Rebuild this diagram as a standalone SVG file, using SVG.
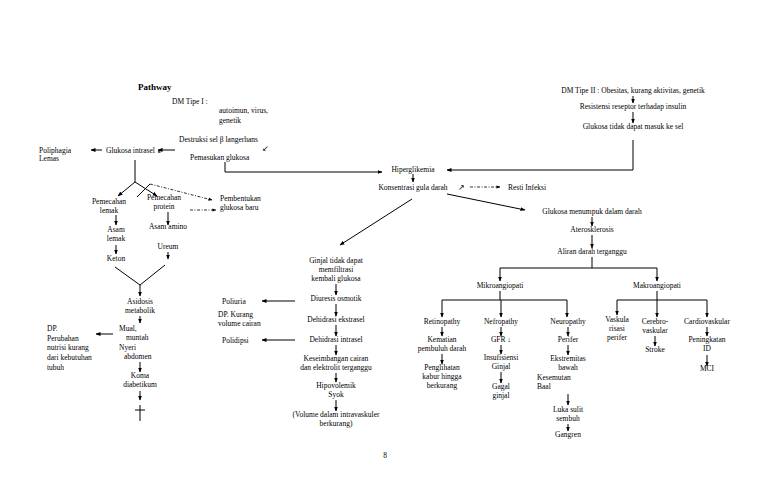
<svg xmlns="http://www.w3.org/2000/svg" width="768" height="503" viewBox="0 0 768 503">
<defs>
<marker id="ah" viewBox="0 0 10 10" refX="9" refY="5" markerWidth="5" markerHeight="5" orient="auto"><path d="M0,1 L10,5 L0,9 z" fill="#000"/></marker>
<style>
text{font-family:"Liberation Serif","Times New Roman",serif;font-size:7.5px;fill:#000}
.c{text-anchor:middle}
.b{font-weight:bold;font-size:9px}
.l{stroke:#000;stroke-width:1;fill:none}
.a{stroke:#000;stroke-width:1;fill:none;marker-end:url(#ah)}
.d{stroke:#000;stroke-width:0.8;fill:none;stroke-dasharray:3,1.5,1,1.5;marker-end:url(#ah)}
</style>
</defs>
<rect width="768" height="503" fill="#fff"/>
<text x="138" y="90" class="b">Pathway</text>
<g id="dm1"><text x="172" y="104">DM Tipe I :</text><text x="219" y="113">autoimun, virus,</text><text x="219" y="123">genetik</text></g>
<g id="destruksi"><text x="179" y="142">Destruksi sel β langerhans</text><text x="262" y="151">↙</text></g>
<g id="pemasukan"><text x="190" y="160">Pemasukan glukosa</text></g>
<g id="glukosaintrasel"><text x="106" y="153">Glukosa intrasel ↙</text></g>
<g id="poliphagia"><text x="39" y="153">Poliphagia</text><text x="39" y="161">Lemas</text></g>
<g id="lemak"><text x="109" y="204" class="c">Pemecahan</text><text x="109" y="213" class="c">lemak</text></g>
<g id="protein"><text x="164" y="200" class="c">Pemecahan</text><text x="164" y="209" class="c">protein</text></g>
<g id="pembentukan"><text x="220" y="201">Pembentukan</text><text x="220" y="210">glukosa baru</text></g>
<g id="asamlemak"><text x="116" y="232" class="c">Asam</text><text x="116" y="241" class="c">lemak</text></g>
<g id="keton"><text x="116" y="261" class="c">Keton</text></g>
<g id="asamamino"><text x="168" y="229" class="c">Asam amino</text></g>
<g id="ureum"><text x="168" y="249" class="c">Ureum</text></g>
<g id="asidosis"><text x="140" y="304" class="c">Asidosis</text><text x="140" y="313" class="c">metabolik</text></g>
<g id="mual"><text x="119" y="331">Mual,</text><text x="126" y="340">muntah</text><text x="119" y="350">Nyeri</text><text x="124" y="359">abdomen</text></g>
<g id="dpnutrisi"><text x="47" y="331">DP.</text><text x="47" y="341">Perubahan</text><text x="47" y="350">nutrisi kurang</text><text x="47" y="360">dari kebutuhan</text><text x="47" y="370">tubuh</text></g>
<g id="koma"><text x="140" y="378" class="c">Koma</text><text x="140" y="387" class="c">diabetikum</text></g>
<g id="mati"><path class="l" d="M140,405 V421 M135,410 H145"/></g>
<g id="hiper"><text x="413" y="172" class="c">Hiperglikemia</text></g>
<g id="konsentrasi"><text x="413" y="190" class="c">Konsentrasi gula darah</text><text x="458" y="190">↗</text></g>
<g id="resti"><text x="508" y="190">Resti Infeksi</text></g>
<g id="ginjal"><text x="336" y="263" class="c">Ginjal tidak dapat</text><text x="336" y="272" class="c">memfiltrasi</text><text x="336" y="281" class="c">kembali glukosa</text></g>
<g id="diuresis"><text x="336" y="301" class="c">Diuresis osmotik</text></g>
<g id="ekstrasel"><text x="336" y="322" class="c">Dehidrasi ekstrasel</text></g>
<g id="intrasel"><text x="336" y="342" class="c">Dehidrasi intrasel</text></g>
<g id="keseimbangan"><text x="336" y="361" class="c">Keseimbangan cairan</text><text x="336" y="370" class="c">dan elektrolit terganggu</text></g>
<g id="hipovolemik"><text x="336" y="388" class="c">Hipovolemik</text><text x="336" y="397" class="c">Syok</text></g>
<g id="volume"><text x="336" y="417" class="c">(Volume dalam intravaskuler</text><text x="336" y="426" class="c">berkurang)</text></g>
<g id="poliuria"><text x="222" y="304">Poliuria</text></g>
<g id="dpcairan"><text x="218" y="317">DP. Kurang</text><text x="218" y="326">volume cairan</text></g>
<g id="polidipsi"><text x="222" y="343">Polidipsi</text></g>
<g id="dm2"><text x="633" y="93" class="c">DM Tipe II : Obesitas, kurang aktivitas, genetik</text></g>
<g id="resistensi"><text x="633" y="109" class="c">Resistensi reseptor terhadap insulin</text></g>
<g id="tidakmasuk"><text x="633" y="129" class="c">Glukosa tidak dapat masuk ke sel</text></g>
<g id="menumpuk"><text x="592" y="214" class="c">Glukosa menumpuk dalam darah</text></g>
<g id="atero"><text x="592" y="232" class="c">Aterosklerosis</text></g>
<g id="aliran"><text x="592" y="254" class="c">Aliran darah terganggu</text></g>
<g id="mikro"><text x="500" y="288" class="c">Mikroangiopati</text></g>
<g id="makro"><text x="657" y="288" class="c">Makroangiopati</text></g>
<g id="retino"><text x="442" y="324" class="c">Retinopathy</text><text x="442" y="342" class="c">Kematian</text><text x="442" y="351" class="c">pembuluh darah</text><text x="442" y="370" class="c">Penglihatan</text><text x="442" y="379" class="c">kabur hingga</text><text x="442" y="388" class="c">berkurang</text></g>
<g id="nefro"><text x="501" y="324" class="c">Nefropathy</text><text x="501" y="342" class="c">GFR ↓</text><text x="501" y="360" class="c">Insufisiensi</text><text x="501" y="369" class="c">Ginjal</text><text x="501" y="389" class="c">Gagal</text><text x="501" y="398" class="c">ginjal</text></g>
<g id="neuro"><text x="568" y="324" class="c">Neuropathy</text><text x="568" y="342" class="c">Perifer</text><text x="568" y="361" class="c">Ekstremitas</text><text x="568" y="370" class="c">bawah</text><text x="537" y="380">Kesemutan</text><text x="537" y="389">Baal</text><text x="568" y="412" class="c">Luka sulit</text><text x="568" y="421" class="c">sembuh</text><text x="568" y="437" class="c">Gangren</text></g>
<g id="vaskul"><text x="617" y="322" class="c">Vaskula</text><text x="617" y="331" class="c">risasi</text><text x="617" y="340" class="c">perifer</text></g>
<g id="cerebro"><text x="655" y="324" class="c">Cerebro-</text><text x="655" y="333" class="c">vaskular</text><text x="655" y="352" class="c">Stroke</text></g>
<g id="cardio"><text x="707" y="324" class="c">Cardiovaskular</text><text x="707" y="342" class="c">Peningkatan</text><text x="707" y="351" class="c">ID</text><text x="707" y="371" class="c">MCI</text></g>
<text x="385" y="458" class="c">8</text>
<g id="connectors">
<path class="a" d="M175,150 H158"/>
<path class="a" d="M102,150 H91"/>
<path class="a" d="M225,162 V172 H382"/>
<path class="a" d="M633,140 V170 H447"/>
<path class="l" d="M135,160 V182"/>
<path class="a" d="M135,182 L118,196"/>
<path class="a" d="M135,182 L157,196"/>
<path class="d" d="M150,184 L212,200"/>
<path class="l" d="M150,184 L137,197" stroke-width="0.6"/>
<path class="d" d="M190,210 H216"/>
<path class="a" d="M116,215 V225"/>
<path class="a" d="M116,245 V254"/>
<path class="a" d="M168,212 V225"/>
<path class="a" d="M168,252 V259"/>
<path class="l" d="M115,267 L140,285 L165,265" stroke="#666"/>
<path class="a" d="M140,285 V296"/>
<path class="a" d="M140,316 V323"/>
<path class="a" d="M113,334 H96"/>
<path class="a" d="M140,362 V372"/>
<path class="a" d="M140,391 V400"/>
<path class="a" d="M413,174 V182"/>
<path class="d" d="M470,187 H500"/>
<path class="a" d="M412,199 L340,245"/>
<path class="a" d="M447,194 L525,210"/>
<path class="a" d="M336,284 V295"/>
<path class="a" d="M336,304 V316"/>
<path class="a" d="M336,325 V336"/>
<path class="a" d="M336,345 V355"/>
<path class="a" d="M336,373 V382"/>
<path class="a" d="M336,400 V411"/>
<path class="a" d="M295,301 H262"/>
<path class="a" d="M295,340 H262"/>
<path class="a" d="M633,96 V103"/>
<path class="a" d="M633,112 V123"/>
<path class="a" d="M592,217 V226"/>
<path class="a" d="M592,235 V248"/>
<path class="l" d="M592,257 V268"/>
<path class="a" d="M500,268 V281"/>
<path class="l" d="M500,268 H657"/>
<path class="a" d="M657,268 V281"/>
<path class="l" d="M500,291 V300 H442"/>
<path class="l" d="M500,300 H567"/>
<path class="a" d="M442,300 V317"/>
<path class="a" d="M501,300 V317"/>
<path class="a" d="M567,300 V317"/>
<path class="a" d="M442,327 V336"/>
<path class="a" d="M442,354 V364"/>
<path class="a" d="M501,327 V336"/>
<path class="a" d="M501,345 V354"/>
<path class="a" d="M501,372 V383"/>
<path class="a" d="M568,327 V336"/>
<path class="a" d="M568,345 V355"/>
<path class="a" d="M568,394 V405"/>
<path class="a" d="M568,424 V431"/>
<path class="l" d="M657,291 V300 H617"/>
<path class="l" d="M657,300 H707"/>
<path class="a" d="M617,300 V315"/>
<path class="a" d="M657,300 V317"/>
<path class="a" d="M707,300 V317"/>
<path class="a" d="M655,336 V346"/>
<path class="a" d="M707,327 V336"/>
<path class="a" d="M707,355 V366"/>
</g>
</svg>
